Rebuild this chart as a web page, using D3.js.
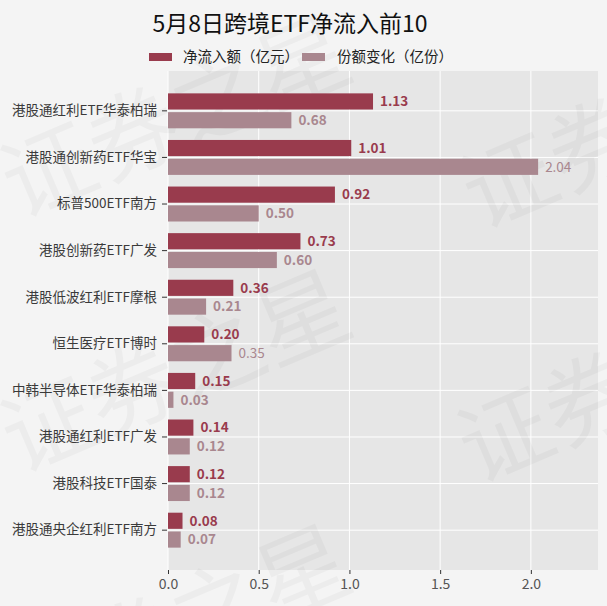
<!DOCTYPE html>
<html><head><meta charset="utf-8">
<script src="https://cdn.jsdelivr.net/npm/d3@7"></script>
<style>
html,body{margin:0;padding:0;background:#f4f4f4;}
svg{display:block;font-family:"Noto Sans CJK SC","Noto Sans",sans-serif;}
</style></head>
<body><svg id="c" width="607" height="606"></svg>
<script>
const categories = ["港股通红利ETF华泰柏瑞","港股通创新药ETF华宝","标普500ETF南方","港股创新药ETF广发","港股低波红利ETF摩根","恒生医疗ETF博时","中韩半导体ETF华泰柏瑞","港股通红利ETF广发","港股科技ETF国泰","港股通央企红利ETF南方"];
const netInflow = [1.13,1.01,0.92,0.73,0.36,0.20,0.15,0.14,0.12,0.08];
const shareChange = [0.68,2.04,0.50,0.60,0.21,0.35,0.03,0.12,0.12,0.07];
const seriesNames = ["净流入额（亿元）","份额变化（亿份）"];
const xTicks = [0,0.5,1.0,1.5,2.0];
const title = "5月8日跨境ETF净流入前10";
const watermark = "证券之星";

const colors = ["#993b4d","#a9878f"];
const svg = d3.select("#c");
const W=607,H=606;
const m={l:168,r:598,t:71,b:570};

svg.append("rect").attr("width",W).attr("height",H).attr("fill","#f4f4f4");

const x = d3.scaleLinear().domain([0,2.37]).range([m.l,m.r]);
const y = d3.scaleBand().domain(categories).range([m.t,m.b]).paddingInner(0.25).paddingOuter(0.48);
const sub = d3.scaleBand().domain([0,1]).range([0,y.bandwidth()]).paddingInner(0.14);

// panel
svg.append("rect").attr("x",m.l).attr("y",m.t).attr("width",m.r-m.l).attr("height",m.b-m.t).attr("fill","#e6e6e6");

// grid
svg.append("g").selectAll("line").data(xTicks).join("line")
  .attr("x1",d=>x(d)).attr("x2",d=>x(d)).attr("y1",m.t).attr("y2",m.b)
  .attr("stroke","#fff").attr("stroke-width",1);
svg.append("g").selectAll("line").data(categories).join("line")
  .attr("x1",m.l).attr("x2",m.r).attr("y1",d=>y(d)+y.bandwidth()/2).attr("y2",d=>y(d)+y.bandwidth()/2)
  .attr("stroke","#fff").attr("stroke-width",1);

// watermark
const wm = svg.append("g").attr("fill","#000").attr("fill-opacity",0.03)
  .style("font-size","92px").style("pointer-events","none");
[[19,219],[19,474],[19,729],[480,230],[476,484]].forEach(p=>{
  wm.append("text").attr("transform",`translate(${p[0]},${p[1]}) rotate(-23)`).text(watermark);
});

// bars
const series=[netInflow,shareChange];
series.forEach((vals,si)=>{
  const g=svg.append("g");
  g.selectAll("rect").data(vals).join("rect")
    .attr("x",x(0)).attr("y",(d,i)=>y(categories[i])+sub(si))
    .attr("width",d=>x(d)-x(0)).attr("height",sub.bandwidth())
    .attr("fill",colors[si]);
  g.selectAll("text").data(vals).join("text")
    .attr("x",d=>x(d)+7).attr("y",(d,i)=>y(categories[i])+sub(si)+sub.bandwidth()/2)
    .attr("dy","0.36em").attr("fill",colors[si])
    .style("font-size","13.5px")
    .style("font-weight",(d,i)=> (si===1 && (d===2.04||d===0.35)) ? "normal":"bold")
    .text(d=>d.toFixed(2));
});

// y axis
const ya = svg.append("g").attr("transform",`translate(${m.l},0)`)
  .call(d3.axisLeft(y).tickSize(5).tickPadding(6));
ya.select(".domain").remove();
ya.selectAll("line").attr("stroke","#333").attr("transform","translate(-1,0)");
ya.selectAll("text").attr("fill","#3a3a3a").style("font-size","13.5px").style("font-family","'Noto Sans CJK SC',sans-serif");

// x axis
const xa = svg.append("g").attr("transform",`translate(0,${m.b})`)
  .call(d3.axisBottom(x).tickValues(xTicks).tickFormat(d3.format(".1f")).tickSize(4).tickPadding(5));
xa.select(".domain").remove();
xa.selectAll("line").attr("stroke","#333");
xa.selectAll("text").attr("fill","#555").style("font-size","14px").style("font-family","'Noto Sans CJK SC',sans-serif");

// title
svg.append("text").attr("x",290).attr("y",32).attr("text-anchor","middle")
  .attr("fill","#111").style("font-size","23px").text(title);

// legend
const leg=[[149,183],[302,337]];
seriesNames.forEach((n,i)=>{
  svg.append("rect").attr("x",leg[i][0]).attr("y",53).attr("width",23).attr("height",8).attr("fill",colors[i]);
  svg.append("text").attr("x",leg[i][1]).attr("y",57).attr("dy","0.36em").attr("fill","#222")
    .style("font-size","14.5px").text(n);
});
</script></body></html>
